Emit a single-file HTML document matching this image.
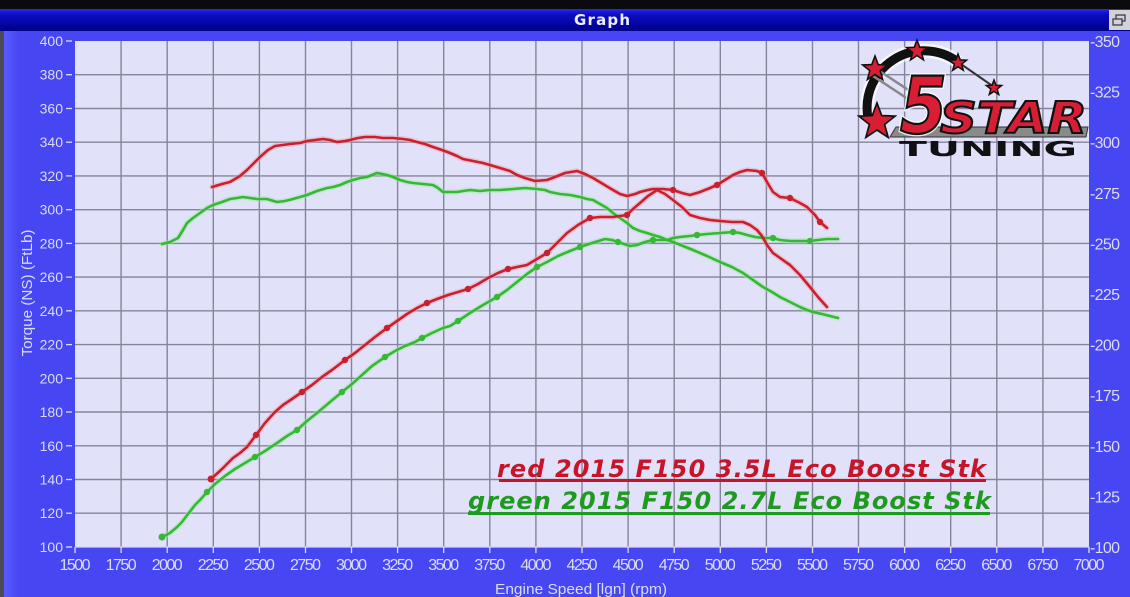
<!DOCTYPE html>
<html><head><meta charset="utf-8"><style>
html,body{margin:0;padding:0;background:#4646f2;overflow:hidden}
svg{display:block}
</style></head><body>
<svg width="1130" height="597" viewBox="0 0 1130 597" xmlns="http://www.w3.org/2000/svg">
<defs>
<linearGradient id="tb" x1="0" y1="0" x2="0" y2="1">
<stop offset="0" stop-color="#2a2aea"/><stop offset="0.25" stop-color="#0c0cc4"/><stop offset="1" stop-color="#00008a"/>
</linearGradient>
<linearGradient id="lb" x1="0" y1="0" x2="1" y2="0">
<stop offset="0" stop-color="#5a5aff"/><stop offset="1" stop-color="#4646f2"/>
</linearGradient>
<polygon id="st" points="0,-1 0.2469,-0.3398 0.9511,-0.3090 0.3995,0.1298 0.5878,0.8090 0,0.42 -0.5878,0.8090 -0.3995,0.1298 -0.9511,-0.3090 -0.2469,-0.3398"/>
</defs>
<rect width="1130" height="597" fill="#4646f2"/>
<rect x="4" y="31" width="16" height="566" fill="url(#lb)"/>
<rect x="0" y="31" width="4" height="566" fill="#4a4a58"/>
<rect x="0" y="0" width="1130" height="9" fill="#0b0b0f"/>
<rect x="0" y="9" width="1130" height="22" fill="url(#tb)"/>
<text x="602" y="25" font-family="DejaVu Sans, sans-serif" font-weight="bold" font-size="15" fill="#eeeeff" text-anchor="middle" textLength="56" lengthAdjust="spacing">Graph</text>
<rect x="1109" y="10" width="21" height="20" fill="#d2d2da"/>
<rect x="1116" y="15" width="9" height="6" fill="none" stroke="#333" stroke-width="1.2"/>
<rect x="1113" y="19" width="9" height="6" fill="#d2d2da" stroke="#333" stroke-width="1.2"/>

<rect x="75" y="41" width="1014" height="506" fill="#e1e1f9"/>
<g stroke="#84849a" stroke-width="1.4">
<line x1="121.1" y1="41" x2="121.1" y2="547"/><line x1="167.2" y1="41" x2="167.2" y2="547"/><line x1="213.3" y1="41" x2="213.3" y2="547"/><line x1="259.4" y1="41" x2="259.4" y2="547"/><line x1="305.5" y1="41" x2="305.5" y2="547"/><line x1="351.5" y1="41" x2="351.5" y2="547"/><line x1="397.6" y1="41" x2="397.6" y2="547"/><line x1="443.7" y1="41" x2="443.7" y2="547"/><line x1="489.8" y1="41" x2="489.8" y2="547"/><line x1="535.9" y1="41" x2="535.9" y2="547"/><line x1="582" y1="41" x2="582" y2="547"/><line x1="628.1" y1="41" x2="628.1" y2="547"/><line x1="674.2" y1="41" x2="674.2" y2="547"/><line x1="720.3" y1="41" x2="720.3" y2="547"/><line x1="766.4" y1="41" x2="766.4" y2="547"/><line x1="812.5" y1="41" x2="812.5" y2="547"/><line x1="858.5" y1="41" x2="858.5" y2="547"/><line x1="904.6" y1="41" x2="904.6" y2="547"/><line x1="950.7" y1="41" x2="950.7" y2="547"/><line x1="996.8" y1="41" x2="996.8" y2="547"/><line x1="1042.9" y1="41" x2="1042.9" y2="547"/>
<line x1="75" y1="74.7" x2="1089" y2="74.7"/><line x1="75" y1="108.5" x2="1089" y2="108.5"/><line x1="75" y1="142.2" x2="1089" y2="142.2"/><line x1="75" y1="175.9" x2="1089" y2="175.9"/><line x1="75" y1="209.7" x2="1089" y2="209.7"/><line x1="75" y1="243.4" x2="1089" y2="243.4"/><line x1="75" y1="277.1" x2="1089" y2="277.1"/><line x1="75" y1="310.8" x2="1089" y2="310.8"/><line x1="75" y1="344.6" x2="1089" y2="344.6"/><line x1="75" y1="378.3" x2="1089" y2="378.3"/><line x1="75" y1="412" x2="1089" y2="412"/><line x1="75" y1="445.8" x2="1089" y2="445.8"/><line x1="75" y1="479.5" x2="1089" y2="479.5"/><line x1="75" y1="513.2" x2="1089" y2="513.2"/>
</g>
<line x1="75" y1="547" x2="1089" y2="547" stroke="#d8d8f0" stroke-width="1.2"/>

<g font-family="Liberation Sans, sans-serif" font-size="14" fill="#dcdcf4" text-anchor="end">
<text x="63" y="46">400</text><text x="63" y="79.7">380</text><text x="63" y="113.5">360</text><text x="63" y="147.2">340</text><text x="63" y="180.9">320</text><text x="63" y="214.7">300</text><text x="63" y="248.4">280</text><text x="63" y="282.1">260</text><text x="63" y="315.8">240</text><text x="63" y="349.6">220</text><text x="63" y="383.3">200</text><text x="63" y="417">180</text><text x="63" y="450.8">160</text><text x="63" y="484.5">140</text><text x="63" y="518.2">120</text><text x="63" y="552">100</text>
</g>
<g stroke="#dcdcf4" stroke-width="1.3">
<line x1="66" y1="41" x2="72" y2="41"/><line x1="66" y1="74.7" x2="72" y2="74.7"/><line x1="66" y1="108.5" x2="72" y2="108.5"/><line x1="66" y1="142.2" x2="72" y2="142.2"/><line x1="66" y1="175.9" x2="72" y2="175.9"/><line x1="66" y1="209.7" x2="72" y2="209.7"/><line x1="66" y1="243.4" x2="72" y2="243.4"/><line x1="66" y1="277.1" x2="72" y2="277.1"/><line x1="66" y1="310.8" x2="72" y2="310.8"/><line x1="66" y1="344.6" x2="72" y2="344.6"/><line x1="66" y1="378.3" x2="72" y2="378.3"/><line x1="66" y1="412" x2="72" y2="412"/><line x1="66" y1="445.8" x2="72" y2="445.8"/><line x1="66" y1="479.5" x2="72" y2="479.5"/><line x1="66" y1="513.2" x2="72" y2="513.2"/><line x1="66" y1="547" x2="72" y2="547"/>
</g>
<text transform="translate(32,293) rotate(-90)" font-family="Liberation Sans, sans-serif" font-size="15" fill="#dcdcf4" text-anchor="middle" textLength="127" lengthAdjust="spacingAndGlyphs">Torque (NS) (FtLb)</text>

<g stroke="#dcdcf4" stroke-width="1.3">
<line x1="75" y1="547" x2="75" y2="553"/><line x1="121.1" y1="547" x2="121.1" y2="553"/><line x1="167.2" y1="547" x2="167.2" y2="553"/><line x1="213.3" y1="547" x2="213.3" y2="553"/><line x1="259.4" y1="547" x2="259.4" y2="553"/><line x1="305.5" y1="547" x2="305.5" y2="553"/><line x1="351.5" y1="547" x2="351.5" y2="553"/><line x1="397.6" y1="547" x2="397.6" y2="553"/><line x1="443.7" y1="547" x2="443.7" y2="553"/><line x1="489.8" y1="547" x2="489.8" y2="553"/><line x1="535.9" y1="547" x2="535.9" y2="553"/><line x1="582" y1="547" x2="582" y2="553"/><line x1="628.1" y1="547" x2="628.1" y2="553"/><line x1="674.2" y1="547" x2="674.2" y2="553"/><line x1="720.3" y1="547" x2="720.3" y2="553"/><line x1="766.4" y1="547" x2="766.4" y2="553"/><line x1="812.5" y1="547" x2="812.5" y2="553"/><line x1="858.5" y1="547" x2="858.5" y2="553"/><line x1="904.6" y1="547" x2="904.6" y2="553"/><line x1="950.7" y1="547" x2="950.7" y2="553"/><line x1="996.8" y1="547" x2="996.8" y2="553"/><line x1="1042.9" y1="547" x2="1042.9" y2="553"/><line x1="1089" y1="547" x2="1089" y2="553"/>
</g>
<g font-family="Liberation Sans, sans-serif" font-size="16" fill="#dcdcf4" text-anchor="middle" lengthAdjust="spacingAndGlyphs">
<text x="75" y="570" textLength="31">1500</text><text x="121.1" y="570" textLength="31">1750</text><text x="167.2" y="570" textLength="31">2000</text><text x="213.3" y="570" textLength="31">2250</text><text x="259.4" y="570" textLength="31">2500</text><text x="305.5" y="570" textLength="31">2750</text><text x="351.5" y="570" textLength="31">3000</text><text x="397.6" y="570" textLength="31">3250</text><text x="443.7" y="570" textLength="31">3500</text><text x="489.8" y="570" textLength="31">3750</text><text x="535.9" y="570" textLength="31">4000</text><text x="582" y="570" textLength="31">4250</text><text x="628.1" y="570" textLength="31">4500</text><text x="674.2" y="570" textLength="31">4750</text><text x="720.3" y="570" textLength="31">5000</text><text x="766.4" y="570" textLength="31">5250</text><text x="812.5" y="570" textLength="31">5500</text><text x="858.5" y="570" textLength="31">5750</text><text x="904.6" y="570" textLength="31">6000</text><text x="950.7" y="570" textLength="31">6250</text><text x="996.8" y="570" textLength="31">6500</text><text x="1042.9" y="570" textLength="31">6750</text><text x="1089" y="570" textLength="31">7000</text>
</g>
<text x="581" y="594" font-family="Liberation Sans, sans-serif" font-size="15" fill="#dcdcf4" text-anchor="middle" textLength="172" lengthAdjust="spacingAndGlyphs">Engine Speed [lgn] (rpm)</text>

<g font-family="Liberation Sans, sans-serif" font-size="16" fill="#dcdcf4" lengthAdjust="spacingAndGlyphs">
<text x="1090" y="47" textLength="30">-350</text><text x="1090" y="97.6" textLength="30">-325</text><text x="1090" y="148.2" textLength="30">-300</text><text x="1090" y="198.8" textLength="30">-275</text><text x="1090" y="249.4" textLength="30">-250</text><text x="1090" y="300" textLength="30">-225</text><text x="1090" y="350.6" textLength="30">-200</text><text x="1090" y="401.2" textLength="30">-175</text><text x="1090" y="451.8" textLength="30">-150</text><text x="1090" y="502.4" textLength="30">-125</text><text x="1090" y="553" textLength="30">-100</text>
</g>

<g>
<path d="M 868 118 A 57 57 0 0 1 958 62" fill="none" stroke="#fff" stroke-width="14" opacity="0.7"/>
<path d="M 868 118 A 57 57 0 0 1 958 62" fill="none" stroke="#111" stroke-width="9"/>
<line x1="958" y1="62" x2="994" y2="87" stroke="#333" stroke-width="2"/>
<line x1="878" y1="70" x2="913" y2="93" stroke="#888" stroke-width="2.5"/>
<line x1="873" y1="76" x2="908" y2="99" stroke="#888" stroke-width="2.5"/>
<g fill="#d81e34" stroke="#111">
<use href="#st" transform="translate(875,69) scale(13)" stroke-width="0.12"/>
<use href="#st" transform="translate(917,51) scale(11)" stroke-width="0.14"/>
<use href="#st" transform="translate(958,63) scale(9)" stroke-width="0.17"/>
<use href="#st" transform="translate(994,88) scale(8)" stroke-width="0.19"/>
<use href="#st" transform="translate(877,122) scale(19)" stroke-width="0.09"/>
</g>
<polygon points="896,127 1088,127 1086,137 890,137" fill="#8a8a8a" stroke="#333" stroke-width="1"/>
<text x="900" y="133" font-family="DejaVu Sans, sans-serif" font-weight="bold" font-style="oblique" font-size="78" fill="#d81e34" stroke="#fff" stroke-width="5" textLength="47" lengthAdjust="spacingAndGlyphs" opacity="0.8">5</text>
<text x="900" y="133" font-family="DejaVu Sans, sans-serif" font-weight="bold" font-style="oblique" font-size="78" fill="#d81e34" stroke="#111" stroke-width="2.2" textLength="47" lengthAdjust="spacingAndGlyphs">5</text>
<text x="940" y="133" font-family="DejaVu Sans, sans-serif" font-weight="bold" font-style="oblique" font-size="44" fill="#d81e34" stroke="#111" stroke-width="2" textLength="147" lengthAdjust="spacingAndGlyphs">STAR</text>
<text x="899" y="156" font-family="DejaVu Sans, sans-serif" font-weight="bold" font-size="20" fill="#111" textLength="178" lengthAdjust="spacingAndGlyphs">TUNING</text>
</g>

<g fill="none" stroke-linejoin="round" stroke-linecap="round">
<g stroke="#f0a0a8" stroke-width="5.5" opacity="0.45">
<polyline points="212,187 222,184 230,182 240,176 247,170 254,163 260,157 268,150 275,146 290,144 300,143 307,141 315,140 323,139 330,140 337,142 345,141 350,140 358,138 365,137 375,137 383,138 393,138 403,139 410,140 417,142 425,144 433,147 442,150 450,153 457,156 463,159 473,161 483,163 490,165 500,168 510,171 517,175 525,178 535,181 547,180 555,177 565,173 577,171 585,174 593,178 603,184 613,190 620,194 627,196 635,194 640,192 648,190 653,189 663,189 673,190 682,193 690,195 700,192 710,188 717,185 725,180 733,175 740,172 747,170 757,171 762,173 767,182 773,192 780,197 790,198 800,203 807,207 815,215 820,222 827,228"/>
<polyline points="211,479 222,469 233,458 240,453 247,447 256,435 265,423 275,412 283,405 292,399 302,392 312,385 322,377 332,370 345,360 355,353 365,345 375,337 387,328 397,321 407,314 417,308 427,303 437,299 448,295 458,292 468,289 478,284 488,278 498,273 508,269 517,267 527,265 537,259 547,253 557,243 567,233 578,225 590,218 600,217 613,217 620,216 627,215 633,209 640,203 648,196 657,190 665,194 673,200 682,207 690,215 700,218 710,220 720,221 732,222 743,222 750,225 757,230 762,236 767,245 773,253 780,258 790,265 800,275 810,287 818,297 827,307"/>
</g>
<g stroke="#a0e8a0" stroke-width="5.5" opacity="0.45">
<polyline points="162,244 170,242 178,238 183,230 187,223 193,218 200,213 207,208 213,205 222,202 230,199 237,198 243,197 250,198 257,199 267,199 277,202 285,201 293,199 300,197 307,195 317,191 327,188 333,187 340,185 347,182 353,180 360,178 367,177 372,175 377,173 382,174 387,175 393,177 400,180 407,182 413,183 423,184 433,185 438,188 443,192 450,192 457,192 463,191 470,190 480,191 490,190 500,190 513,189 525,188 537,189 545,190 550,192 560,194 570,195 580,197 587,199 593,200 600,204 607,208 613,213 620,218 627,223 633,228 640,231 647,233 653,235 660,237 667,240 673,242 683,246 693,250 707,256 720,262 732,267 743,273 753,280 763,287 772,292 780,297 790,302 800,307 807,310 813,312 822,314 830,316 838,318"/>
<polyline points="162,537 170,533 177,527 182,522 188,514 195,505 200,500 207,492 215,484 225,476 235,469 245,463 255,457 265,451 277,443 287,436 297,430 307,421 317,413 330,402 342,392 352,384 362,375 372,366 385,357 395,351 405,346 415,342 422,338 432,333 443,328 450,326 458,321 470,313 483,305 497,297 507,290 517,282 527,274 537,267 547,262 558,256 570,251 580,247 592,243 605,239 612,240 618,242 624,244 630,246 637,245 645,242 653,240 660,240 667,240 673,238 680,237 690,236 697,235 707,234 720,233 733,232 740,233 747,235 755,237 763,238 773,238 780,240 790,241 800,241 810,241 818,240 827,239 838,239"/>
</g>
<g stroke="#36b836" stroke-width="2.6">
<polyline points="162,244 170,242 178,238 183,230 187,223 193,218 200,213 207,208 213,205 222,202 230,199 237,198 243,197 250,198 257,199 267,199 277,202 285,201 293,199 300,197 307,195 317,191 327,188 333,187 340,185 347,182 353,180 360,178 367,177 372,175 377,173 382,174 387,175 393,177 400,180 407,182 413,183 423,184 433,185 438,188 443,192 450,192 457,192 463,191 470,190 480,191 490,190 500,190 513,189 525,188 537,189 545,190 550,192 560,194 570,195 580,197 587,199 593,200 600,204 607,208 613,213 620,218 627,223 633,228 640,231 647,233 653,235 660,237 667,240 673,242 683,246 693,250 707,256 720,262 732,267 743,273 753,280 763,287 772,292 780,297 790,302 800,307 807,310 813,312 822,314 830,316 838,318"/>
<polyline points="162,537 170,533 177,527 182,522 188,514 195,505 200,500 207,492 215,484 225,476 235,469 245,463 255,457 265,451 277,443 287,436 297,430 307,421 317,413 330,402 342,392 352,384 362,375 372,366 385,357 395,351 405,346 415,342 422,338 432,333 443,328 450,326 458,321 470,313 483,305 497,297 507,290 517,282 527,274 537,267 547,262 558,256 570,251 580,247 592,243 605,239 612,240 618,242 624,244 630,246 637,245 645,242 653,240 660,240 667,240 673,238 680,237 690,236 697,235 707,234 720,233 733,232 740,233 747,235 755,237 763,238 773,238 780,240 790,241 800,241 810,241 818,240 827,239 838,239"/>
</g>
<g stroke="#c8202e" stroke-width="2.6">
<polyline points="212,187 222,184 230,182 240,176 247,170 254,163 260,157 268,150 275,146 290,144 300,143 307,141 315,140 323,139 330,140 337,142 345,141 350,140 358,138 365,137 375,137 383,138 393,138 403,139 410,140 417,142 425,144 433,147 442,150 450,153 457,156 463,159 473,161 483,163 490,165 500,168 510,171 517,175 525,178 535,181 547,180 555,177 565,173 577,171 585,174 593,178 603,184 613,190 620,194 627,196 635,194 640,192 648,190 653,189 663,189 673,190 682,193 690,195 700,192 710,188 717,185 725,180 733,175 740,172 747,170 757,171 762,173 767,182 773,192 780,197 790,198 800,203 807,207 815,215 820,222 827,228"/>
<polyline points="211,479 222,469 233,458 240,453 247,447 256,435 265,423 275,412 283,405 292,399 302,392 312,385 322,377 332,370 345,360 355,353 365,345 375,337 387,328 397,321 407,314 417,308 427,303 437,299 448,295 458,292 468,289 478,284 488,278 498,273 508,269 517,267 527,265 537,259 547,253 557,243 567,233 578,225 590,218 600,217 613,217 620,216 627,215 633,209 640,203 648,196 657,190 665,194 673,200 682,207 690,215 700,218 710,220 720,221 732,222 743,222 750,225 757,230 762,236 767,245 773,253 780,258 790,265 800,275 810,287 818,297 827,307"/>
</g>
</g>
<g fill="#c8202e">
<circle cx="211" cy="479" r="3.5"/><circle cx="256" cy="435" r="3.2"/><circle cx="302" cy="392" r="3.2"/><circle cx="345" cy="360" r="3.2"/><circle cx="387" cy="328" r="3.2"/><circle cx="427" cy="303" r="3.2"/><circle cx="468" cy="289" r="3.2"/><circle cx="508" cy="269" r="3.2"/><circle cx="547" cy="253" r="3.2"/><circle cx="590" cy="218" r="3.2"/><circle cx="627" cy="215" r="3.2"/><circle cx="673" cy="190" r="3.2"/><circle cx="717" cy="185" r="3.2"/><circle cx="762" cy="173" r="3.2"/><circle cx="790" cy="198" r="3.2"/><circle cx="820" cy="222" r="3.2"/>
</g>
<g fill="#36b836">
<circle cx="162" cy="537" r="3.5"/><circle cx="207" cy="492" r="3.2"/><circle cx="255" cy="457" r="3.2"/><circle cx="297" cy="430" r="3.2"/><circle cx="342" cy="392" r="3.2"/><circle cx="385" cy="357" r="3.2"/><circle cx="422" cy="338" r="3.2"/><circle cx="458" cy="321" r="3.2"/><circle cx="497" cy="297" r="3.2"/><circle cx="537" cy="267" r="3.2"/><circle cx="580" cy="247" r="3.2"/><circle cx="618" cy="242" r="3.2"/><circle cx="653" cy="240" r="3.2"/><circle cx="697" cy="235" r="3.2"/><circle cx="733" cy="232" r="3.2"/><circle cx="773" cy="238" r="3.2"/><circle cx="810" cy="241" r="3.2"/>
</g>

<text x="497" y="477" font-family="DejaVu Sans, Verdana, sans-serif" font-weight="bold" font-style="oblique" font-size="24" fill="#c8142a" textLength="489" lengthAdjust="spacing">red 2015 F150 3.5L Eco Boost Stk</text>
<rect x="499" y="479" width="487" height="3" fill="#c8142a"/>
<text x="468" y="509" font-family="DejaVu Sans, Verdana, sans-serif" font-weight="bold" font-style="oblique" font-size="24" fill="#1e9a1e" textLength="523" lengthAdjust="spacing">green 2015 F150 2.7L Eco Boost Stk</text>
<rect x="468" y="512" width="522" height="3" fill="#1e9a1e"/>
</svg>
</body></html>
